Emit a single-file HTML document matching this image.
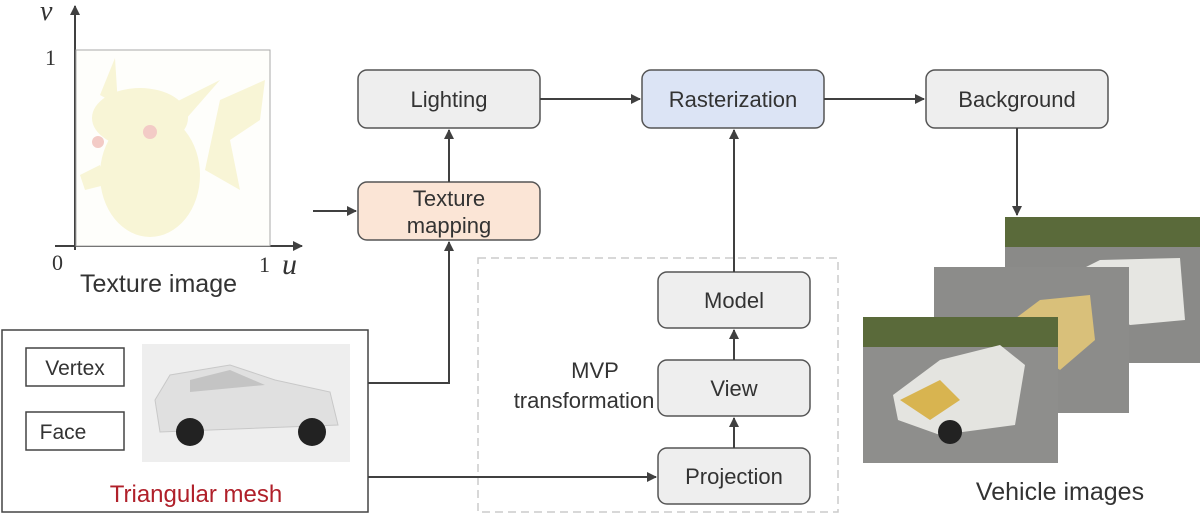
<!DOCTYPE html>
<html><head><style>body{margin:0;background:#fff}svg{display:block}</style></head><body>
<svg width="1200" height="516" viewBox="0 0 1200 516" xmlns="http://www.w3.org/2000/svg" font-family="Liberation Sans, sans-serif">
<defs><marker id="a" markerWidth="10" markerHeight="10" refX="9" refY="5" orient="auto" markerUnits="userSpaceOnUse"><path d="M0,0 L10,5 L0,10 Z" fill="#404040"/></marker></defs>
<g stroke="#404040" stroke-width="2" fill="none">
<line x1="75" y1="250" x2="75" y2="6" marker-end="url(#a)"/>
<line x1="55" y1="246" x2="302" y2="246" marker-end="url(#a)"/>
</g>
<rect x="76" y="50" width="194" height="196" fill="#fefefb" stroke="#aaa"/>
<ellipse cx="150" cy="175" rx="50" ry="62" fill="#f8f5d6"/>
<ellipse cx="140" cy="118" rx="48" ry="30" fill="#f8f5d6"/>
<polygon points="205,170 220,100 265,80 260,120 230,140 240,190" fill="#f8f5d6"/>
<polygon points="100,95 115,58 118,105" fill="#f8f5d6"/>
<polygon points="160,110 220,80 185,120" fill="#f8f5d6"/>
<polygon points="80,175 100,165 105,185 85,190" fill="#f8f5d6"/>
<circle cx="98" cy="142" r="6" fill="#f3cbc6"/><circle cx="150" cy="132" r="7" fill="#f3cbc6"/>
<text x="40" y="20" style="font-family:'Liberation Serif',serif;font-style:italic" font-size="28" fill="#333">v</text>
<text x="45" y="65" style="font-family:'Liberation Serif',serif" font-size="22" fill="#333">1</text>
<text x="52" y="270" style="font-family:'Liberation Serif',serif" font-size="22" fill="#333">0</text>
<text x="259" y="272" style="font-family:'Liberation Serif',serif" font-size="22" fill="#333">1</text>
<text x="282" y="274" style="font-family:'Liberation Serif',serif;font-style:italic" font-size="30" fill="#333">u</text>
<text x="80" y="292" font-size="25" fill="#333">Texture image</text>
<rect x="478" y="258" width="360" height="254" fill="none" stroke="#ccc" stroke-width="1.5" stroke-dasharray="8,5"/>
<g stroke="#555" stroke-width="1.5">
<rect x="358" y="70" width="182" height="58" rx="9" fill="#eeeeee"/>
<rect x="642" y="70" width="182" height="58" rx="9" fill="#dce4f5"/>
<rect x="926" y="70" width="182" height="58" rx="9" fill="#eeeeee"/>
<rect x="358" y="182" width="182" height="58" rx="9" fill="#fbe5d6"/>
<rect x="658" y="272" width="152" height="56" rx="9" fill="#eeeeee"/>
<rect x="658" y="360" width="152" height="56" rx="9" fill="#eeeeee"/>
<rect x="658" y="448" width="152" height="56" rx="9" fill="#eeeeee"/>
</g>
<g font-size="22" fill="#333" text-anchor="middle">
<text x="449" y="107">Lighting</text>
<text x="733" y="107">Rasterization</text>
<text x="1017" y="107">Background</text>
<text x="449" y="206">Texture</text>
<text x="449" y="233">mapping</text>
<text x="734" y="308">Model</text>
<text x="734" y="396">View</text>
<text x="734" y="484">Projection</text>
<text x="595" y="378">MVP</text>
<text x="584" y="408">transformation</text>
<text x="1060" y="500" font-size="25">Vehicle images</text>
</g>
<g stroke="#404040" stroke-width="2" fill="none">
<line x1="313" y1="211" x2="356" y2="211" marker-end="url(#a)"/>
<line x1="449" y1="182" x2="449" y2="130" marker-end="url(#a)"/>
<line x1="540" y1="99" x2="640" y2="99" marker-end="url(#a)"/>
<line x1="824" y1="99" x2="924" y2="99" marker-end="url(#a)"/>
<line x1="1017" y1="128" x2="1017" y2="215" marker-end="url(#a)"/>
<line x1="734" y1="272" x2="734" y2="130" marker-end="url(#a)"/>
<line x1="734" y1="360" x2="734" y2="330" marker-end="url(#a)"/>
<line x1="734" y1="448" x2="734" y2="418" marker-end="url(#a)"/>
<polyline points="368,383 449,383 449,242" marker-end="url(#a)"/>
<line x1="368" y1="477" x2="656" y2="477" marker-end="url(#a)"/>
</g>
<rect x="2" y="330" width="366" height="182" fill="#fff" stroke="#444" stroke-width="1.5"/>
<rect x="26" y="348" width="98" height="38" fill="#fff" stroke="#444" stroke-width="1.5"/>
<rect x="26" y="412" width="98" height="38" fill="#fff" stroke="#444" stroke-width="1.5"/>
<text x="75" y="375" font-size="21" fill="#333" text-anchor="middle">Vertex</text>
<text x="63" y="439" font-size="21" fill="#333" text-anchor="middle">Face</text>
<rect x="142" y="344" width="208" height="118" fill="#eeeeee"/>
<path d="M155,400 L170,375 L230,365 L275,380 L330,392 L338,425 L160,432 Z" fill="#e0e0e0" stroke="#c8c8c8"/>
<path d="M190,380 L230,370 L265,385 L190,392 Z" fill="#c4c4c4"/>
<circle cx="190" cy="432" r="14" fill="#222"/><circle cx="312" cy="432" r="14" fill="#222"/>
<text x="196" y="502" font-size="24" fill="#b0202a" text-anchor="middle">Triangular mesh</text>
<g>
<rect x="1005" y="217" width="195" height="146" fill="#8a8a88"/>
<rect x="1005" y="217" width="195" height="30" fill="#5a6a3a"/>
<path d="M1060,280 L1100,260 L1180,258 L1185,320 L1130,325 Z" fill="#e6e6e2"/>
<rect x="934" y="267" width="195" height="146" fill="#8c8c8a"/>
<path d="M1000,330 L1040,300 L1090,295 L1095,340 L1060,370 Z" fill="#d9c07a"/>
<rect x="863" y="317" width="195" height="146" fill="#8e8e8c"/>
<rect x="863" y="317" width="195" height="30" fill="#5a6a3a"/>
<path d="M893,395 L940,360 L1000,345 L1025,365 L1015,425 L940,435 L898,420 Z" fill="#e4e4e0"/>
<path d="M900,400 L940,380 L960,400 L930,420 Z" fill="#d8b450"/>
<circle cx="950" cy="432" r="12" fill="#222"/>
</g>
</svg>
</body></html>
